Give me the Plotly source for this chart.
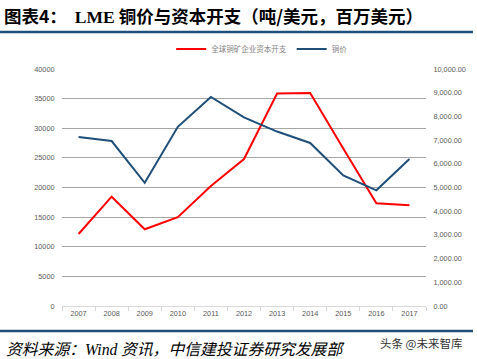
import plotly.graph_objects as go

years = ["2007", "2008", "2009", "2010", "2011", "2012", "2013", "2014", "2015", "2016", "2017"]
capex = [12150, 18450, 12950, 15000, 20250, 24800, 35850, 35950, 26600, 17350, 17000]
copper_price = [7130, 6960, 5200, 7560, 8820, 7960, 7360, 6880, 5510, 4880, 6200]

left_ticks = [0, 5000, 10000, 15000, 20000, 25000, 30000, 35000, 40000]
right_ticks = [0, 1000, 2000, 3000, 4000, 5000, 6000, 7000, 8000, 9000, 10000]
right_tick_labels = ["0.00", "1,000.00", "2,000.00", "3,000.00", "4,000.00", "5,000.00",
                     "6,000.00", "7,000.00", "8,000.00", "9,000.00", "10,000.00"]

RED = "#ff0000"
BLUE = "#1f4e79"
NAVY = "#1f4e79"
TICK_FONT = dict(family="Liberation Sans, Arial, sans-serif", size=7.3, color="#595959")

fig = go.Figure()
fig.add_trace(go.Scatter(x=years, y=capex, name="全球铜矿企业资本开支", mode="lines",
                         line=dict(color=RED, width=2), yaxis="y"))
fig.add_trace(go.Scatter(x=years, y=copper_price, name="铜价", mode="lines",
                         line=dict(color=BLUE, width=2), yaxis="y2"))

fig.update_layout(
    width=477, height=359,
    margin=dict(l=62, r=51, t=69, b=53),
    paper_bgcolor="white", plot_bgcolor="white",
    showlegend=True,
    legend=dict(orientation="h", x=0.30, xanchor="left", y=1 + 20/237, yanchor="middle",
                font=dict(family="Noto Sans CJK SC", size=7.5, color="#7f7f7f"),
                itemwidth=30, tracegroupgap=0, bgcolor="rgba(0,0,0,0)"),
    xaxis=dict(type="category", range=[-0.5, 10.5], showgrid=False,
               showline=True, linecolor="#d9d9d9", linewidth=1,
               ticks="outside", tickson="boundaries", ticklen=4, tickcolor="#d9d9d9",
               tickfont=TICK_FONT, zeroline=False),
    yaxis=dict(range=[0, 40000], tickvals=left_ticks, ticktext=[str(v) for v in left_ticks],
               showgrid=True, gridcolor="#a6a6a6", gridwidth=1, zeroline=False,
               showline=False, tickfont=TICK_FONT, ticks="outside", ticklen=5,
               tickcolor="rgba(0,0,0,0)"),
    yaxis2=dict(range=[0, 10000], overlaying="y", side="right",
                tickvals=right_ticks, ticktext=right_tick_labels, showgrid=False,
                zeroline=False, showline=False, tickfont=TICK_FONT, ticks="outside",
                ticklen=5, tickcolor="rgba(0,0,0,0)"),
    title=dict(text="图表4：  <span style=\"font-family:'Liberation Serif', serif\">LME</span> 铜价与资本开支（吨/美元，百万美元）",
               x=4/477, xanchor="left", xref="container",
               y=1 - 17/359, yanchor="middle", yref="container",
               font=dict(family="Noto Sans CJK SC", size=17.5, color="#000000", weight="bold")),
)

# header / footer rules
fig.add_shape(type="line", xref="paper", yref="paper",
              x0=-62/364, x1=(473-62)/364, y0=1 + (69-32)/237, y1=1 + (69-32)/237,
              line=dict(color=NAVY, width=2.5))
fig.add_shape(type="line", xref="paper", yref="paper",
              x0=-62/364, x1=(473-62)/364, y0=-(331-306)/237, y1=-(331-306)/237,
              line=dict(color=NAVY, width=2.5))

fig.add_annotation(text="<i>资料来源：<span style=\"font-family:'Liberation Serif', serif\">Wind</span> 资讯，中信建投证券研究发展部</i>",
                   xref="paper", yref="paper", x=-58/364, xanchor="left",
                   y=-(348-306)/237, yanchor="middle", showarrow=False,
                   font=dict(family="Noto Sans CJK SC", size=15.8, color="#000000"))
fig.add_annotation(text="头条 @未来智库",
                   xref="paper", yref="paper", x=(378-62)/364, xanchor="left",
                   y=-(343-306)/237, yanchor="middle", showarrow=False,
                   font=dict(family="Noto Sans CJK SC", size=11.5, color="#333333"))

fig.write_html("out.html", config={"displayModeBar": False},
               post_script="document.body.style.margin='0';document.body.style.overflow='hidden';")
